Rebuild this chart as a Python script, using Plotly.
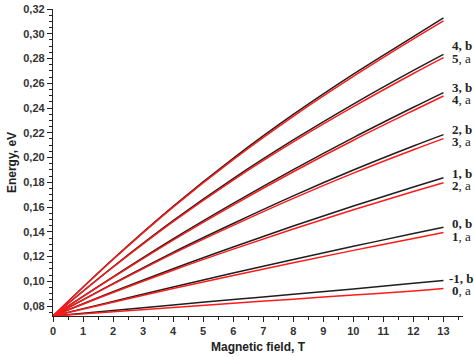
import plotly.graph_objects as go

field = [0, 2, 4, 6, 8, 10, 12, 13]

black_series = {
    "5, b": [0.072, 0.1180, 0.1606, 0.1994, 0.2348, 0.2674, 0.2977, 0.3128],
    "4, b": [0.072, 0.1118, 0.1490, 0.1830, 0.2142, 0.2432, 0.2704, 0.2834],
    "3, b": [0.072, 0.1036, 0.1342, 0.1629, 0.1902, 0.2161, 0.2406, 0.2525],
    "2, b": [0.072, 0.0982, 0.1234, 0.1467, 0.1690, 0.1899, 0.2093, 0.2185],
    "1, b": [0.072, 0.0916, 0.1102, 0.1278, 0.1447, 0.1608, 0.1762, 0.1837],
    "0, b": [0.072, 0.0838, 0.0955, 0.1068, 0.1177, 0.1283, 0.1386, 0.1437],
    "-1, b": [0.072, 0.0765, 0.0809, 0.0853, 0.0896, 0.0939, 0.0984, 0.1006],
}

red_series = {
    "6, a": [0.072, 0.1176, 0.1599, 0.1983, 0.2333, 0.2655, 0.2958, 0.3104],
    "5, a": [0.072, 0.1114, 0.1482, 0.1818, 0.2126, 0.2411, 0.2679, 0.2807],
    "4, a": [0.072, 0.1032, 0.1333, 0.1616, 0.1885, 0.2140, 0.2380, 0.2497],
    "3, a": [0.072, 0.0977, 0.1224, 0.1452, 0.1670, 0.1874, 0.2063, 0.2153],
    "2, a": [0.072, 0.0910, 0.1090, 0.1260, 0.1423, 0.1578, 0.1725, 0.1797],
    "1, a": [0.072, 0.0831, 0.0942, 0.1048, 0.1151, 0.1250, 0.1346, 0.1394],
    "0, a": [0.072, 0.0755, 0.0789, 0.0823, 0.0856, 0.0889, 0.0922, 0.0943],
}

# label texts and their vertical positions (energy, eV)
label_texts = ["<b>4, b</b>", "<b>5</b>, a", "<b>3, b</b>", "<b>4</b>, a",
               "<b>2, b</b>", "<b>3</b>, a", "<b>1, b</b>", "<b>2</b>, a",
               "<b>0, b</b>", "<b>1</b>, a", "<b>-1, b</b>", "<b>0</b>, a"]
label_y = [0.2903, 0.2801, 0.2566, 0.2469, 0.2228, 0.2131,
           0.1875, 0.1775, 0.1470, 0.1365, 0.1019, 0.0925]
label_x = [13.22, 13.22, 13.22, 13.22, 13.22, 13.22,
           13.22, 13.22, 13.22, 13.22, 13.12, 13.22]

fig = go.Figure()
for name, vals in black_series.items():
    fig.add_trace(go.Scatter(x=field, y=vals, mode="lines", name=name,
                             line=dict(color="#1e1e1e", width=1.5, shape="spline"),
                             showlegend=False))
for name, vals in red_series.items():
    fig.add_trace(go.Scatter(x=field, y=vals, mode="lines", name=name,
                             line=dict(color="#ff1a1a", width=1.5, shape="spline"),
                             showlegend=False))

for t, yv, xv in zip(label_texts, label_y, label_x):
    fig.add_annotation(x=xv, y=yv, text=t, showarrow=False, xanchor="left",
                       yanchor="middle", xref="x", yref="y",
                       font=dict(family="Liberation Serif", size=13, color="#222"))

axis_common = dict(showline=True, linecolor="#222", linewidth=1.3, ticks="outside",
                   tickcolor="#222", tickwidth=1.3, ticklen=5, showgrid=False,
                   zeroline=False, mirror=False, automargin=False,
                   tickfont=dict(family="Liberation Sans", size=11, color="#333", weight="bold"),
                   title_font=dict(family="Liberation Sans", size=12, color="#222", weight="bold"))

fig.update_xaxes(range=[0, 13.65], dtick=1, tick0=0,
                 minor=dict(dtick=0.5, ticks="outside", ticklen=3, tickcolor="#222", tickwidth=1),
                 title_text="Magnetic field, T", title_standoff=6, **axis_common)
fig.update_yaxes(range=[0.072, 0.32], dtick=0.02, tick0=0.08, tickformat=".2f",
                 minor=dict(dtick=0.005, ticks="outside", ticklen=3, tickcolor="#222", tickwidth=1),
                 title_text="Energy, eV", title_standoff=4, **axis_common)

fig.update_layout(width=474, height=357, separators=", ",
                  margin=dict(l=53, r=11, t=9, b=41, autoexpand=False),
                  paper_bgcolor="white", plot_bgcolor="white")

fig.write_html("out.html", config={"displayModeBar": False},
               post_script="document.body.style.margin='0';")
